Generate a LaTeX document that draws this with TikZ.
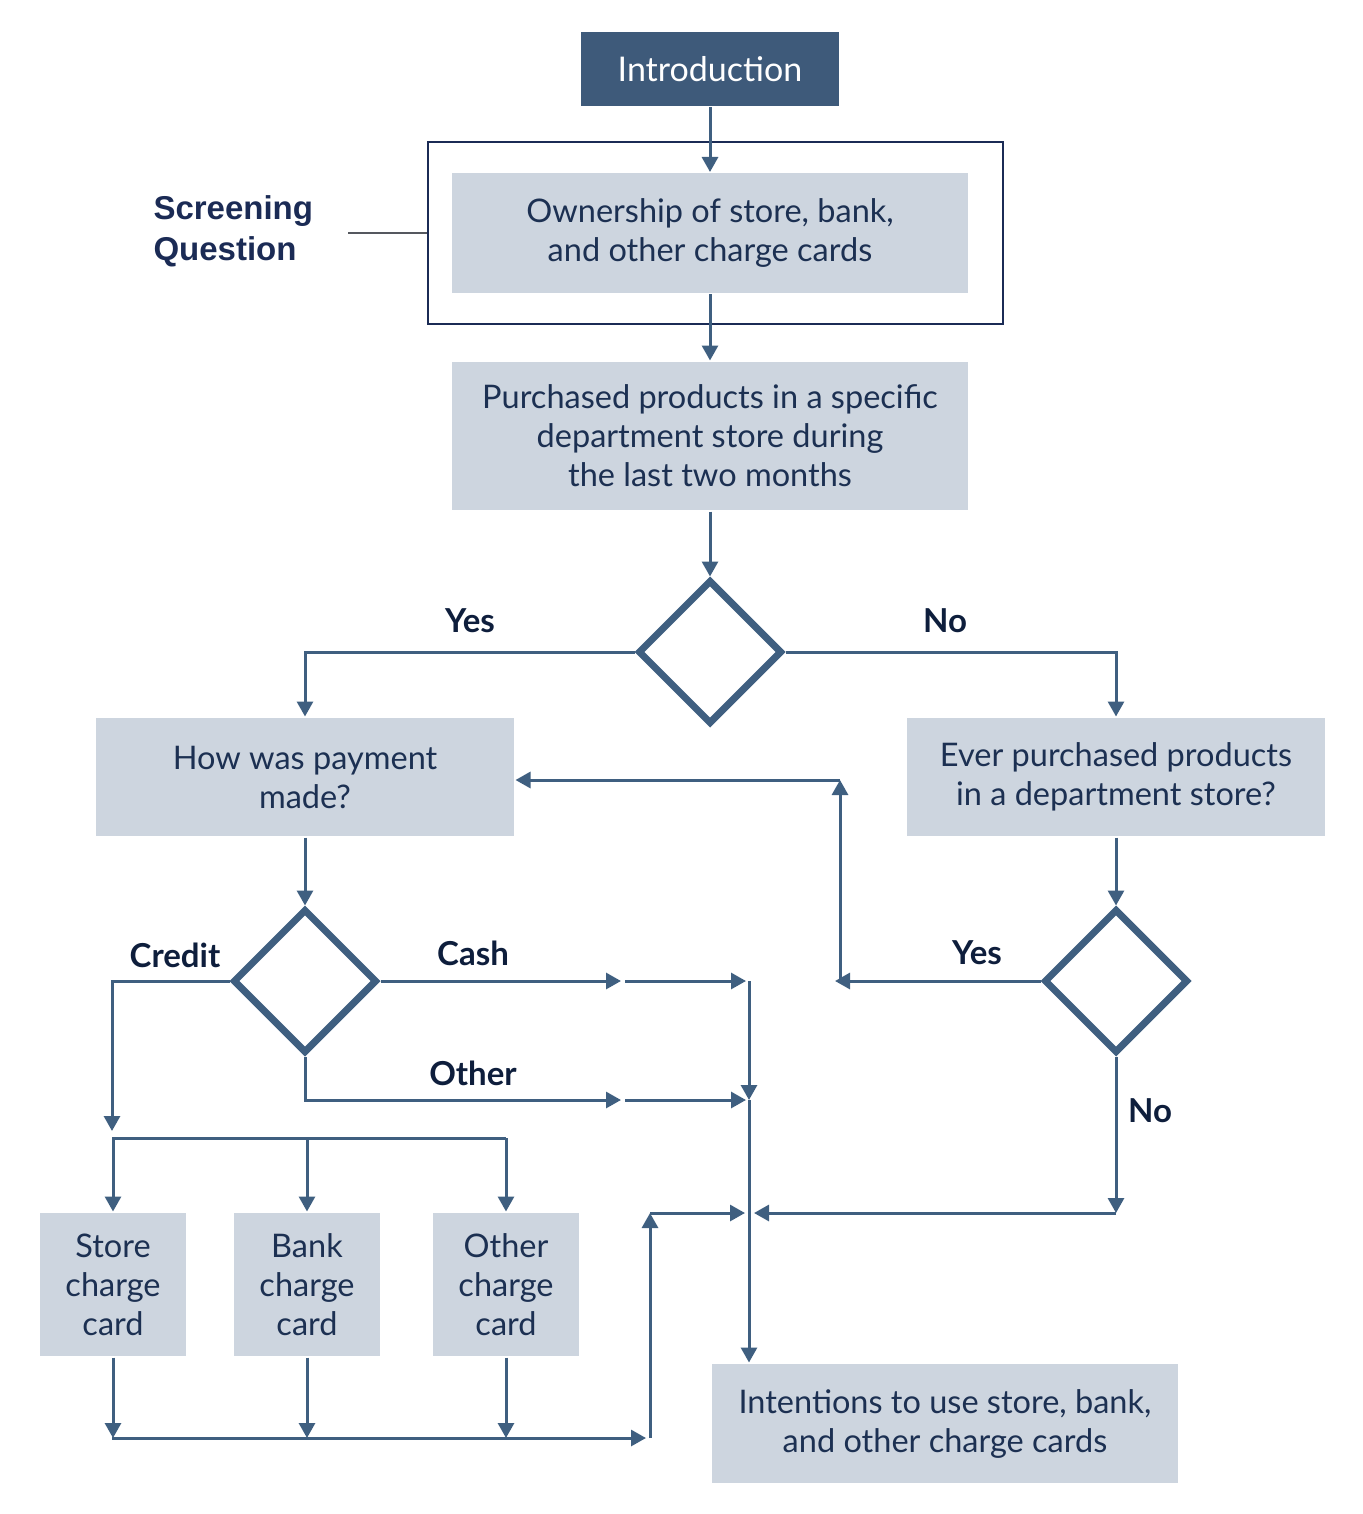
\documentclass[tikz,border=0pt]{standalone}
\usepackage{fontspec}
\setmainfont{Lato}
\newfontfamily\arialfont{Liberation Sans}
\usetikzlibrary{arrows.meta,shapes.geometric}

\begin{document}
\begin{tikzpicture}[x=1pt,y=-1pt,line width=3pt]
\definecolor{figline}{RGB}{63,95,128}
\definecolor{figdark}{RGB}{62,90,122}
\definecolor{figbox}{RGB}{205,213,223}
\definecolor{figtext}{RGB}{28,48,82}
\definecolor{figlabel}{RGB}{14,30,60}
\definecolor{fignavy}{RGB}{27,43,85}
\definecolor{figgrey}{RGB}{85,88,95}
\providecommand{\fbig}{\fontsize{32.5}{39}\selectfont}
\providecommand{\fhead}{\fontsize{34}{40}\selectfont}
\providecommand{\flab}{\fontsize{33}{39}\selectfont\bfseries}
\providecommand{\fscreen}{\arialfont\bfseries\fontsize{33}{41}\selectfont}
\tikzset{
  greybox/.style={rectangle,fill=figbox,draw=none,text=figtext,font=\fbig,align=center,inner sep=0pt},
  decision/.style={diamond,draw=figline,line width=7pt,minimum width=144pt,minimum height=144pt,inner sep=0pt},
  flow/.style={draw=figline,line width=3pt,-{Triangle[length=15pt,width=16pt]}},
  plain/.style={draw=figline,line width=3pt},
  branch/.style={font=\flab,text=figlabel,inner sep=0pt}
}
\useasboundingbox (0,0) rectangle (1362,1514);
% top part
\node[rectangle,fill=figdark,text=white,font=\fhead,minimum width=258pt,minimum height=74pt,inner sep=0pt] (intro) at (710,69) {Introduction};
\node[draw=fignavy,line width=2.5pt,minimum width=575pt,minimum height=182pt,inner sep=0pt] (screen) at (715.5,233) {};
\node[greybox,minimum width=516pt,minimum height=119pt] (own) at (710,233) {Ownership of store, bank,\\and other charge cards};
\node[anchor=west,font=\fscreen,text=fignavy,align=left,inner sep=0pt] (sq) at (152,231) {Screening\\Question};
\coordinate (sqend) at (348,233);
\draw[figgrey,line width=2.5pt] (sqend) -- (screen.west);
\node[greybox,minimum width=516pt,minimum height=148pt] (purch) at (710,436) {Purchased products in a specific\\department store during\\the last two months};
\node[decision] (d1) at (710,652) {};
\node[greybox,minimum width=418pt,minimum height=118pt] (pay) at (305,777) {How was payment\\made?};
\node[greybox,minimum width=418pt,minimum height=118pt] (ever) at (1116,777) {Ever purchased products\\in a department store?};
\node[decision] (d2) at (305,981) {};
\node[decision] (d3) at (1116,981) {};
\node[greybox,minimum width=146pt,minimum height=143pt] (store) at (113,1284.5) {Store\\charge\\card};
\node[greybox,minimum width=146pt,minimum height=143pt] (bank) at (307,1284.5) {Bank\\charge\\card};
\node[greybox,minimum width=146pt,minimum height=143pt] (ocard) at (506,1284.5) {Other\\charge\\card};
\node[greybox,minimum width=466pt,minimum height=119pt] (intent) at (945,1423.5) {Intentions to use store, bank,\\and other charge cards};
% labels
\node[branch] (lyes1) at (470,621) {Yes};
\node[branch] (lno1) at (945,621) {No};
\node[branch] (lcredit) at (175,955) {Credit};
\node[branch] (lcash) at (473,953) {Cash};
\node[branch] (lother) at (473,1073) {Other};
\node[branch] (lyes2) at (977,953) {Yes};
\node[branch] (lno2) at (1150,1111) {No};
% junctions
\coordinate (crd) at (112,1131);
\coordinate (busL) at (112,1138);
\coordinate (busR) at (506,1138);
\coordinate (cashM) at (621,981);
\coordinate (othM) at (621,1100);
\coordinate (hubT) at (749,981);
\coordinate (hubM) at (749,1100);
\coordinate (hubB) at (749,1213);
\coordinate (yesE) at (840,981);
\coordinate (loopT) at (840,780);
\coordinate (noE) at (1116,1213);
\coordinate (botL) at (112,1438);
\coordinate (botR) at (650,1438);
\coordinate (upT) at (650,1213);
% connectors
\draw[flow] (intro.south) -- (own.north);
\draw[flow] (own.south) -- (purch.north);
\draw[flow] (purch.south) -- (d1.north);
\draw[flow] (d1.west) -| (pay.north);
\draw[flow] (d1.east) -| (ever.north);
\draw[flow] (pay.south) -- (d2.north);
\draw[flow] (ever.south) -- (d3.north);
\draw[flow] (d2.west) -| (crd);
\draw[plain] (busL) -- (busR);
\foreach \c in {store,bank,ocard}
  \draw[flow] (\c.north |- busL) -- (\c.north);
\draw[flow] (d2.east) -- (cashM);
\draw[flow,shorten <=4pt,shorten >=3pt] (cashM) -- (hubT);
\draw[flow] (d2.south) |- (othM);
\draw[flow,shorten <=4pt,shorten >=3pt] (othM) -- (hubM);
\draw[flow] (hubT) -- (hubM);
\draw[flow] (hubM) -- (intent.north -| hubM);
\draw[flow,shorten >=-5pt] (d3.west) -- (yesE);
\draw[flow] (yesE) -- (loopT);
\draw[flow] (loopT) -- (pay.east |- loopT);
\draw[flow] (d3.south) -- (noE);
\draw[flow,shorten >=5pt] (noE) -- (hubB);
\foreach \c in {store,bank,ocard}
  \draw[flow] (\c.south) -- (\c.south |- botL);
\draw[flow,shorten >=4pt] (botL) -- (botR);
\draw[flow] (botR) -- (upT);
\draw[flow,shorten >=4pt] (upT) -- (hubB);
\end{tikzpicture}
\end{document}
